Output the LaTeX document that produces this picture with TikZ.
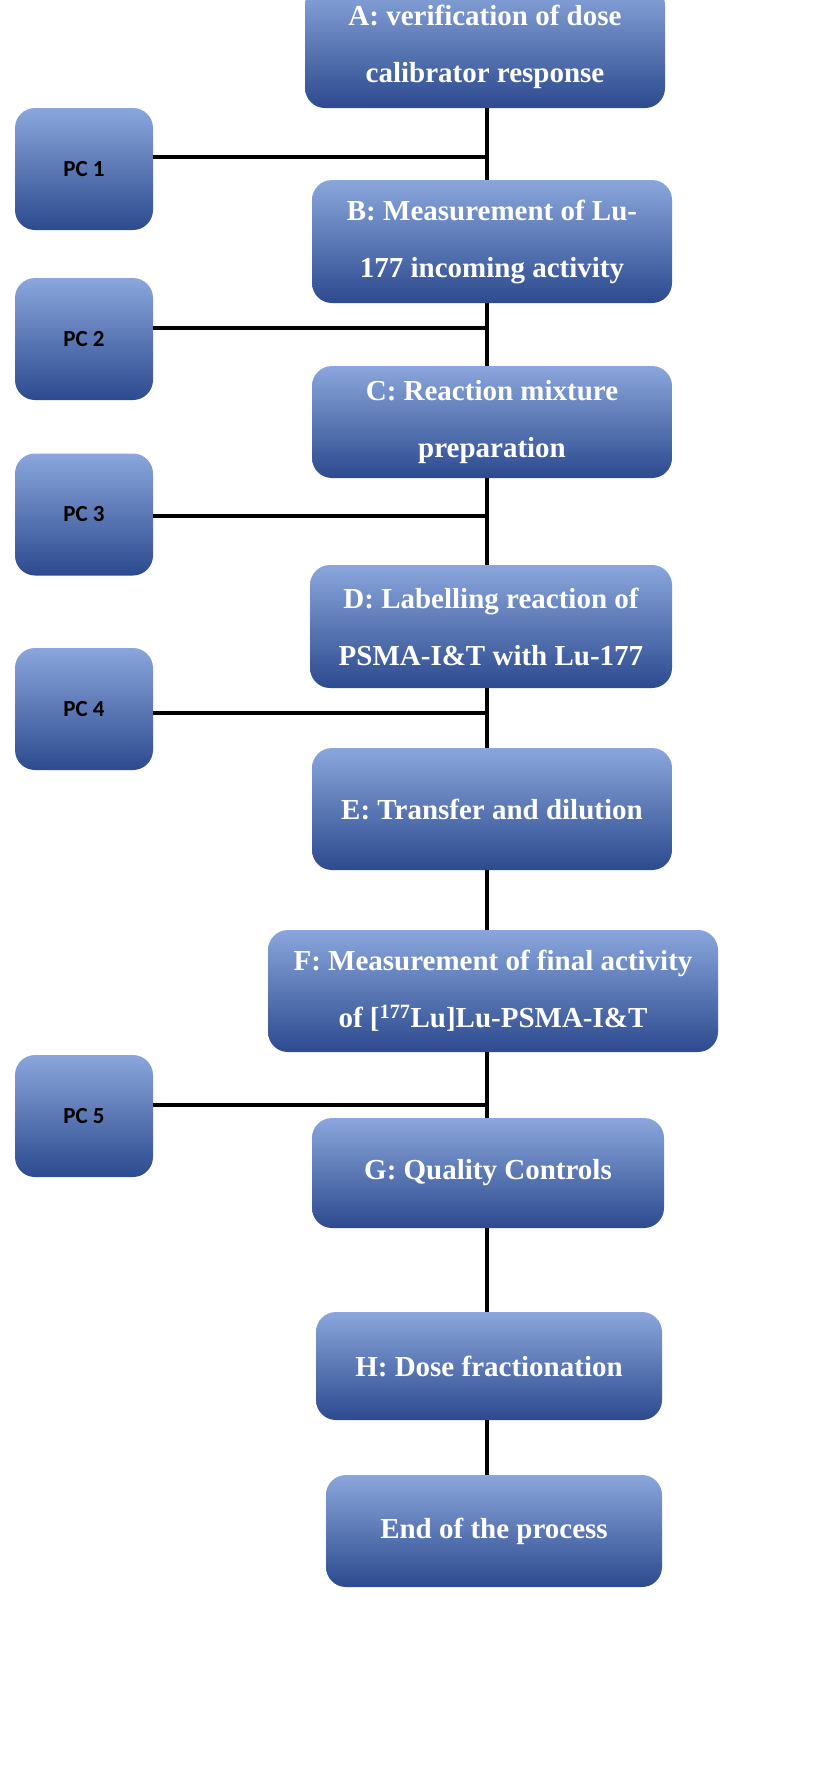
\documentclass[tikz,border=0pt]{standalone}
\usepackage{fontspec}
\setmainfont{Liberation Serif}
\newfontfamily\pcfont{Carlito}
\begin{document}
\begin{tikzpicture}[x=1pt,y=-1pt,
 box/.style={rounded corners=20pt,
   text=white,font=\fontsize{29}{57}\selectfont\bfseries,align=center,inner sep=0pt},
 pc/.style={box,minimum width=138pt,minimum height=122pt,text=black,font=\pcfont\fontsize{23}{26}\selectfont\bfseries},
 ln/.style={line width=4.5pt}]
\useasboundingbox (0,0) rectangle (815,1781);
\definecolor{t}{HTML}{8AA6DC}\definecolor{m}{HTML}{4A72C4}\definecolor{b}{HTML}{2C4A8E}
\tikzset{box/.append style={top color=t,middle color=m,bottom color=b}}
\node[box,minimum width=360pt,minimum height=123pt] (A) at (485,46.5) {A: verification of dose\\calibrator response};
\node[box,minimum width=360pt,minimum height=123pt] (B) at (492,241.5) {B: Measurement of Lu-\\177 incoming activity};
\node[box,minimum width=360pt,minimum height=112pt] (C) at (492,422) {C: Reaction mixture\\preparation};
\node[box,minimum width=362pt,minimum height=123pt] (D) at (491,626.5) {D: Labelling reaction of\\PSMA-I\&T with Lu-177};
\node[box,minimum width=360pt,minimum height=122pt] (E) at (492,809) {E: Transfer and dilution};
\node[box,minimum width=450pt,minimum height=122pt] (F) at (493,991) {F: Measurement of final activity\\of [\textsuperscript{177}Lu]Lu-PSMA-I\&T};
\node[box,minimum width=352pt,minimum height=110pt] (G) at (488,1173) {G: Quality Controls};
\node[box,minimum width=346pt,minimum height=108pt] (H) at (489,1366) {H: Dose fractionation};
\node[box,minimum width=336pt,minimum height=112pt] (I) at (494,1531) {End of the process};
\node[pc] (P1) at (84,169) {PC 1};
\node[pc] (P2) at (84,339) {PC 2};
\node[pc] (P3) at (84,514.5) {PC 3};
\node[pc] (P4) at (84,709) {PC 4};
\node[pc] (P5) at (84,1116) {PC 5};
\foreach \u/\v in {A/B,B/C,C/D,D/E,E/F,F/G,G/H,H/I}
  \draw[ln] (487,0 |- \u.south) -- (487,0 |- \v.north);
\foreach \p/\y in {P1/157,P2/328,P3/516,P4/713,P5/1105}
  \draw[ln] (\p.east |- 0,\y) -- (489,\y);
\end{tikzpicture}
\end{document}
